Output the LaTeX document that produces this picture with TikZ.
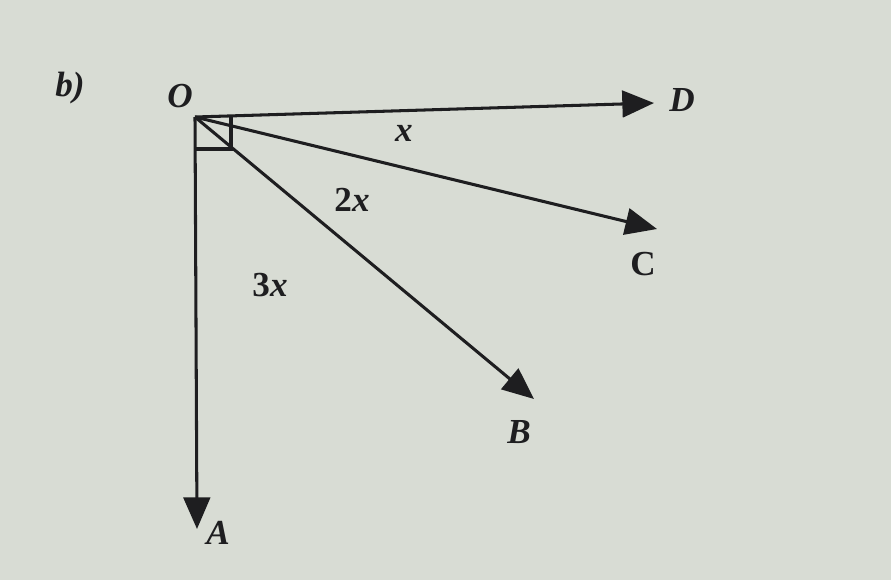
\documentclass[tikz,border=0pt]{standalone}
\usepackage{fontspec}
\setmainfont{Liberation Serif}
\usetikzlibrary{arrows.meta}
\definecolor{bg}{RGB}{216,220,212}
\definecolor{ink}{RGB}{30,30,32}
\tikzset{
  vec/.style={draw=ink, line width=2.6pt, -{Triangle[length=0.95cm,width=0.8cm]}},
  sqline/.style={draw=ink, line width=2.6pt},
  lbl/.style={text=ink, font=\fontsize{30}{30}\selectfont\bfseries\itshape, inner sep=0pt},
  lblu/.style={text=ink, font=\fontsize{30}{30}\selectfont\bfseries, inner sep=0pt}
}
\begin{document}
\begin{tikzpicture}[x=0.03cm,y=-0.03cm]
\fill[bg] (0,0) rectangle (891,580);
\useasboundingbox (0,0) rectangle (891,580);
\coordinate (O) at (195,117);
\coordinate (Dt) at (654,103);
\coordinate (Ct) at (657,229);
\coordinate (Bt) at (534,399);
\coordinate (At) at (197,529);
\coordinate (s1) at (231,117);
\coordinate (s2) at (231,149);
\coordinate (s3) at (195,149);
\draw[sqline] (s1) -- (s2) -- (s3);
\draw[vec] (O) -- (Dt);
\draw[vec] (O) -- (Ct);
\draw[vec] (O) -- (Bt);
\draw[vec] (O) -- (At);
\node[lbl] (b) at (70,88) {b)};
\node[lbl] (o) at (180,96) {O};
\node[lbl] (d) at (682,100) {D};
\node[lblu] (c) at (643,264) {C};
\node[lbl] (bb) at (519,432) {B};
\node[lbl] (a) at (218,533) {A};
\node[lbl] (x1) at (404,133) {x};
\node[lblu] (x2) at (352,200) {2\textit{x}};
\node[lblu] (x3) at (270,285) {3\textit{x}};
\end{tikzpicture}
\end{document}
